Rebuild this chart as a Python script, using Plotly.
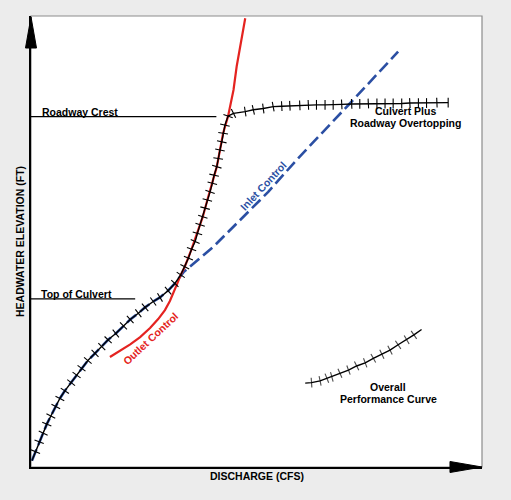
import plotly.graph_objects as go

# overall performance curve (ticked line)
perf_x = [0.2, 1.0, 1.8, 2.7, 3.5, 4.4, 5.5, 6.4, 7.5, 8.9, 10.1, 11.2, 12.6, 14.2, 15.7,
          17.1, 18.8, 20.5, 22.0, 23.8, 25.3, 27.1, 28.6, 30.4, 31.9,
          33.2, 34.1, 34.9, 35.6, 36.4, 36.9, 37.5, 38.1, 38.6, 39.1, 39.7, 40.2, 40.6,
          41.2, 41.5, 41.9, 42.3, 42.6, 43.0, 43.7,
          44.9, 47.5, 49.3, 51.5, 53.7, 55.6, 57.4, 59.6, 61.5, 63.3, 65.2, 67.0, 68.9,
          71.1, 72.9, 74.8, 76.7, 78.5, 80.3, 82.2, 84.0, 85.9, 87.7, 90.0, 92.5]
perf_y = [1.4, 3.4, 5.6, 7.5, 9.5, 11.3, 13.4, 15.2, 16.9, 18.7, 20.4, 21.9, 23.6, 25.2, 26.7,
          28.2, 29.6, 31.3, 32.7, 34.1, 35.4, 36.7, 37.6, 39.1, 40.7,
          42.6, 44.4, 46.3, 48.3, 50.0, 51.8, 53.7, 55.5, 57.4, 59.2, 61.0, 62.9, 64.7,
          66.6, 68.4, 70.3, 72.1, 74.0, 75.8, 77.8,
          78.4, 78.8, 79.2, 79.5, 79.9, 80.0, 80.1, 80.2, 80.3, 80.3, 80.3, 80.3, 80.4,
          80.5, 80.5, 80.6, 80.6, 80.6, 80.6, 80.6, 80.7, 80.7, 80.7, 80.8, 80.8]

# outlet control (red)
outlet_x = [17.5, 19.7, 22.0, 24.2, 26.4, 28.2, 29.7, 30.8, 31.7, 32.4, 33.2, 34.1, 35.6,
            36.9, 38.1, 39.1, 40.2, 41.2, 41.9, 42.6, 43.7, 44.9, 45.6, 46.7, 47.5]
outlet_y = [24.4, 25.7, 27.2, 28.8, 30.8, 32.8, 34.8, 36.8, 38.8, 40.6, 42.6, 44.4, 48.3,
            51.8, 55.5, 59.2, 62.9, 66.6, 70.3, 74.0, 77.8, 83.6, 88.8, 94.7, 99.5]

# inlet control (blue dashed), follows the low curve then runs straight
inlet_x = perf_x[:25] + [33.9, 40.4, 52.6, 58.9, 70.7, 81.4]
inlet_y = perf_y[:25] + [43.3, 48.8, 61.0, 68.1, 80.6, 92.1]

# sample curve next to "Overall Performance Curve"
sample_x = [60.8, 62.2, 64.1, 65.6, 66.7, 68.5, 70.4, 72.2, 74.1, 75.9, 77.8, 79.6, 81.4, 83.3, 84.9, 86.6]
sample_y = [18.6, 18.7, 19.1, 19.7, 20.0, 20.8, 21.5, 22.4, 23.1, 24.1, 25.0, 25.9, 27.1, 28.2, 29.3, 30.5]

crest_y = 77.7
crest_end = 41.1
culvert_top_y = 37.3
culvert_top_end = 23.1

FONT = 'Liberation Sans, Arial, sans-serif'
RED = '#e42320'
BLUE = '#2b4fa3'
BG = '#ececec'

fig = go.Figure()

fig.add_trace(go.Scatter(x=[0, crest_end], y=[crest_y, crest_y], mode='lines',
                         line=dict(color='black', width=1.2)))
fig.add_trace(go.Scatter(x=[0, culvert_top_end], y=[culvert_top_y, culvert_top_y], mode='lines',
                         line=dict(color='black', width=1.2)))

fig.add_trace(go.Scatter(x=inlet_x, y=inlet_y, mode='lines',
                         line=dict(color=BLUE, width=2.6, dash='12px,5px')))
fig.add_trace(go.Scatter(x=outlet_x, y=outlet_y, mode='lines',
                         line=dict(color=RED, width=2.2)))

tick = dict(symbol='line-ew', size=7, angleref='previous', color='black',
            line=dict(color='black', width=1.1))
fig.add_trace(go.Scatter(x=perf_x, y=perf_y, mode='lines+markers',
                         line=dict(color='black', width=1.4), marker=tick))

sample_sizes = [0] + [7] * (len(sample_x) - 2) + [0]
fig.add_trace(go.Scatter(x=sample_x, y=sample_y, mode='lines+markers',
                         line=dict(color='black', width=1.4),
                         marker=dict(tick, size=sample_sizes)))

def label(text, x, y, color='black', angle=0, xanchor='center'):
    fig.add_annotation(x=x, y=y, text='<b>%s</b>' % text, showarrow=False, textangle=angle,
                       xanchor=xanchor, yanchor='middle',
                       font=dict(family=FONT, size=10.5, color=color))

label('Roadway Crest', 2.0, 78.7, xanchor='left')
label('Top of Culvert', 1.8, 38.4, xanchor='left')
label('Culvert Plus', 83.1, 78.9)
label('Roadway Overtopping', 83.1, 76.3)
label('Overall', 79.2, 17.7)
label('Performance Curve', 79.2, 15.1)
label('Inlet Control', 51.4, 62.4, color=BLUE, angle=-47)
label('Outlet Control', 26.6, 28.6, color=RED, angle=-43)

fig.add_annotation(xref='paper', yref='paper', x=0.501, y=-0.038, text='<b>DISCHARGE (CFS)</b>',
                   showarrow=False, font=dict(family=FONT, size=10.5, color='black'))
fig.add_annotation(xref='paper', yref='paper', x=-0.042, y=0.499, text='<b>HEADWATER ELEVATION (FT)</b>',
                   textangle=-90, showarrow=False,
                   font=dict(family=FONT, size=10.5, color='black'))

# frame and arrow heads
shapes = [
    dict(type='rect', xref='paper', yref='paper', x0=0, x1=1, y0=0, y1=1,
         line=dict(color='#8c8c8c', width=1.2), layer='below'),
    dict(type='path', xref='paper', yref='paper',
         path='M 0 0.998 L -0.0122 0.929 L 0.0122 0.929 Z',
         fillcolor='black', line=dict(color='black', width=1)),
    dict(type='path', xref='paper', yref='paper',
         path='M 1.0 0 L 0.929 0.0122 L 0.929 -0.0122 Z',
         fillcolor='black', line=dict(color='black', width=1)),
]

axis = dict(range=[0, 100], showgrid=False, zeroline=False, showticklabels=False, ticks='',
            showline=True, linecolor='black', linewidth=1.5, fixedrange=True)

fig.update_layout(
    width=511, height=500,
    margin=dict(l=31, r=29, t=16, b=33),
    paper_bgcolor=BG, plot_bgcolor='white',
    showlegend=False,
    xaxis=axis, yaxis=axis,
    shapes=shapes,
)

fig.write_html("out.html", config={'displayModeBar': False},
               post_script="document.body.style.margin='0';document.body.style.background='%s';" % BG)
